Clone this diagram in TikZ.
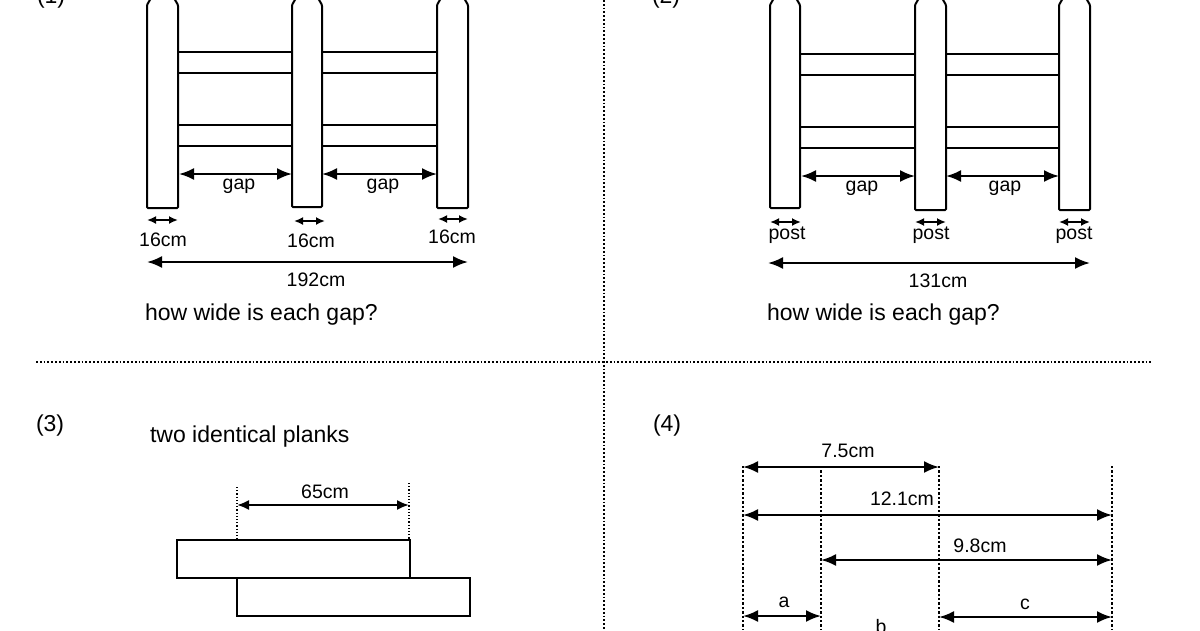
\documentclass[tikz,border=0pt]{standalone}
\usepackage{fontspec}
\setmainfont{Liberation Sans}
\usetikzlibrary{arrows.meta}
\begin{document}
\begin{tikzpicture}[x=1pt,y=-1pt,
  line width=2pt,
  dim/.style={line width=2.2pt,{Latex[length=15pt,width=12pt]}-{Latex[length=15pt,width=12pt]}},
  sdim/.style={line width=1.8pt,{Latex[length=9pt,width=8pt]}-{Latex[length=9pt,width=8pt]}},
  lbl/.style={font=\fontsize{19.5}{19.5}\selectfont,inner sep=0pt},
  qlbl/.style={font=\fontsize{23}{23}\selectfont,inner sep=0pt,anchor=west},
  sep/.style={line width=1.8pt,dotted},
  vdot/.style={line width=2.4pt,dotted}]
\useasboundingbox (0,0) rectangle (1200,630);
\fill[white] (0,0) rectangle (1200,630);
\newcommand{\fpost}[3]{\draw[rounded corners=1pt] (#1,#3)--(#1,5)--(#1+4,-2)--(#2-4,-2)--(#2,5)--(#2,#3)--cycle;}
\newcommand{\frail}[3]{\draw (#1,#3)--(#2,#3) (#1,#3+21)--(#2,#3+21);}
% dividers
\draw[sep] (604,0)--(604,630);
\draw[sep] (36,362)--(1152,362);
% panel 1
\node[qlbl] (n1) at (36,-2) {(1)};
\fpost{147}{178}{208}\fpost{292}{322}{207}\fpost{437}{468}{208}
\frail{178}{292}{52}\frail{322}{437}{52}\frail{178}{292}{125}\frail{322}{437}{125}
\draw[dim] (179,174)--(292,174); \draw[dim] (322,174)--(437,174);
\node[lbl] (g1) at (239,186) {gap}; \node[lbl] (g2) at (383,186) {gap};
\draw[sdim] (147,220)--(178,220); \draw[sdim] (294,221)--(325,221); \draw[sdim] (438,219)--(468,219);
\node[lbl] (c1) at (163,240) {16cm}; \node[lbl] (c2) at (311,241) {16cm}; \node[lbl] (c3) at (452,237) {16cm};
\draw[dim] (147,262)--(468,262);
\node[lbl] (t1) at (316,280) {192cm};
\node[qlbl] (q1) at (144,315) {how wide is each gap?};
% panel 2
\node[qlbl] (n2) at (651,-2) {(2)};
\fpost{770}{800}{208}\fpost{915}{946}{210}\fpost{1059}{1090}{210}
\frail{800}{915}{54}\frail{946}{1059}{54}\frail{800}{915}{127}\frail{946}{1059}{127}
\draw[dim] (801,176)--(915,176); \draw[dim] (946,176)--(1059,176);
\node[lbl] (g3) at (862,188) {gap}; \node[lbl] (g4) at (1005,188) {gap};
\draw[sdim] (770,222)--(801,222); \draw[sdim] (915,222)--(946,222); \draw[sdim] (1059,222)--(1090,222);
\node[lbl] (p1) at (787,235) {post}; \node[lbl] (p2) at (931,235) {post}; \node[lbl] (p3) at (1074,235) {post};
\draw[dim] (768,263)--(1090,263);
\node[lbl] (t2) at (938,281) {131cm};
\node[qlbl] (q2) at (766,315) {how wide is each gap?};
% panel 3
\node[qlbl] (n3) at (35,426) {(3)};
\node[qlbl] (q3) at (149,437) {two identical planks};
\draw[line width=1.2pt,dotted] (237,487)--(237,540) (409,483)--(409,540);
\draw[line width=2pt,{Latex[length=12pt,width=10pt]}-{Latex[length=12pt,width=10pt]}] (237,505)--(409,505);
\node[lbl] (t3) at (325,492) {65cm};
\draw (177,540) rectangle (410,578);
\draw (237,578) rectangle (470,616);
% panel 4
\node[qlbl] (n4) at (652,426) {(4)};
\foreach \xx in {743,821,939,1112} \draw[vdot] (\xx,466)--(\xx,630);
\draw[dim] (743,467)--(939,467); \node[lbl] (t4) at (848,451) {7.5cm};
\draw[dim] (743,515)--(1112,515); \node[lbl] (t5) at (902,499) {12.1cm};
\draw[dim] (821,560)--(1112,560); \node[lbl] (t6) at (980,546) {9.8cm};
\draw[dim] (743,616)--(821,616); \node[lbl] (a) at (784,602) {a};
\draw[dim] (939,617)--(1112,617); \node[lbl] (c) at (1025,604) {c};
\node[lbl] (b) at (881,627) {b};
\end{tikzpicture}
\end{document}
